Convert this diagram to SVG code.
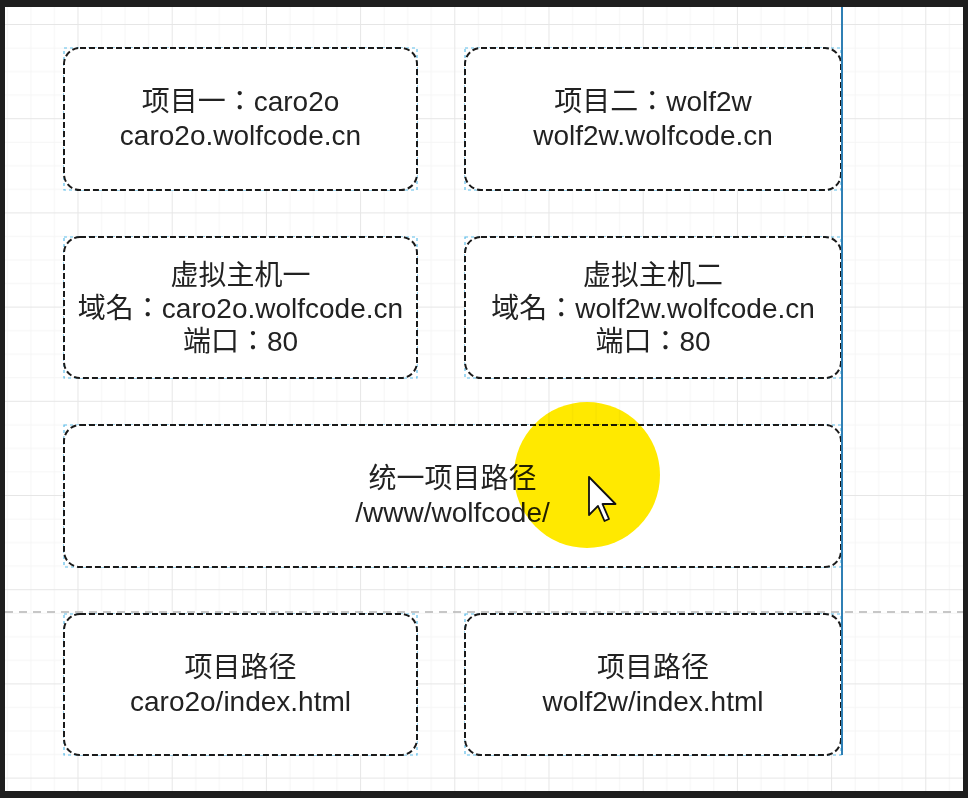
<svg xmlns="http://www.w3.org/2000/svg" width="968" height="798" viewBox="0 0 968 798">
<style>
  .node-shape { fill: #ffffff; stroke: #1a1a1a; stroke-width: 2; stroke-dasharray: 6 3; }
  .sel { fill: none; stroke: #5dbde9; stroke-width: 1.2; stroke-dasharray: 3 3; }
  .label { font-family: "Liberation Sans", "Noto Sans CJK TC", "Noto Sans CJK SC", sans-serif; font-size: 28px; fill: #222222; text-anchor: middle; }
  .guide-v { stroke: #2f7fb4; stroke-width: 2; }
  .guide-h { stroke: #b5b5b5; stroke-width: 1.5; stroke-dasharray: 8 6; }
</style>
<defs>
  <pattern id="grid" patternUnits="userSpaceOnUse" x="77.5" y="24" width="94.2" height="94.2">
    <path d="M24.05 0 V94.2 M47.6 0 V94.2 M71.15 0 V94.2 M0 24.05 H94.2 M0 47.6 H94.2 M0 71.15 H94.2" stroke="#f5f5f5" stroke-width="1" fill="none"/>
    <path d="M0.5 0 V94.2 M0 0.5 H94.2" stroke="#e6e6e6" stroke-width="1" fill="none"/>
  </pattern>
</defs>

<rect x="0" y="0" width="968" height="798" fill="#1e1e1e"/>
<rect x="5" y="7" width="958" height="784" fill="#ffffff"/>
<rect x="5" y="7" width="958" height="784" fill="url(#grid)"/>

<g id="guides">
  <line class="guide-h" x1="5" y1="612" x2="963" y2="612"/>
</g>

<g id="connectors"></g>

<g id="node-project1">
  <rect class="sel" x="64" y="48" width="353" height="142"/>
  <rect class="node-shape" x="64" y="48" width="353" height="142" rx="16" ry="16"/>
  <text class="label" x="240.5" y="111">项目一：caro2o</text>
  <text class="label" x="240.5" y="145">caro2o.wolfcode.cn</text>
</g>

<g id="node-project2">
  <rect class="sel" x="465" y="48" width="376" height="142"/>
  <rect class="node-shape" x="465" y="48" width="376" height="142" rx="16" ry="16"/>
  <text class="label" x="653" y="111">项目二：wolf2w</text>
  <text class="label" x="653" y="145">wolf2w.wolfcode.cn</text>
</g>

<g id="node-vhost1">
  <rect class="sel" x="64" y="237" width="353" height="141"/>
  <rect class="node-shape" x="64" y="237" width="353" height="141" rx="16" ry="16"/>
  <text class="label" x="240.5" y="285">虚拟主机一</text>
  <text class="label" x="240.5" y="318">域名：caro2o.wolfcode.cn</text>
  <text class="label" x="240.5" y="351">端口：80</text>
</g>

<g id="node-vhost2">
  <rect class="sel" x="465" y="237" width="376" height="141"/>
  <rect class="node-shape" x="465" y="237" width="376" height="141" rx="16" ry="16"/>
  <text class="label" x="653" y="285">虚拟主机二</text>
  <text class="label" x="653" y="318">域名：wolf2w.wolfcode.cn</text>
  <text class="label" x="653" y="351">端口：80</text>
</g>

<g id="node-unified-path">
  <rect class="sel" x="64" y="425" width="777" height="142"/>
  <rect class="node-shape" x="64" y="425" width="777" height="142" rx="16" ry="16"/>
  <text class="label" x="452.5" y="488">统一项目路径</text>
  <text class="label" x="452.5" y="522">/www/wolfcode/</text>
</g>

<g id="node-path1">
  <rect class="sel" x="64" y="614" width="353" height="141"/>
  <rect class="node-shape" x="64" y="614" width="353" height="141" rx="16" ry="16"/>
  <text class="label" x="240.5" y="677">项目路径</text>
  <text class="label" x="240.5" y="711">caro2o/index.html</text>
</g>

<g id="node-path2">
  <rect class="sel" x="465" y="614" width="376" height="141"/>
  <rect class="node-shape" x="465" y="614" width="376" height="141" rx="16" ry="16"/>
  <text class="label" x="653" y="677">项目路径</text>
  <text class="label" x="653" y="711">wolf2w/index.html</text>
</g>

<g id="vertical-guide">
  <line class="guide-v" x1="842" y1="7" x2="842" y2="755"/>
</g>

<g id="cursor-highlight">
  <circle cx="587" cy="475" r="73" fill="#ffe900" style="mix-blend-mode:multiply"/>
  <polygon points="589,477 589,515 598,506 604.5,521 609,519 602.5,504 615.5,504" fill="#ffffff" stroke="#111111" stroke-width="1.8" stroke-linejoin="round"/>
</g>
</svg>
